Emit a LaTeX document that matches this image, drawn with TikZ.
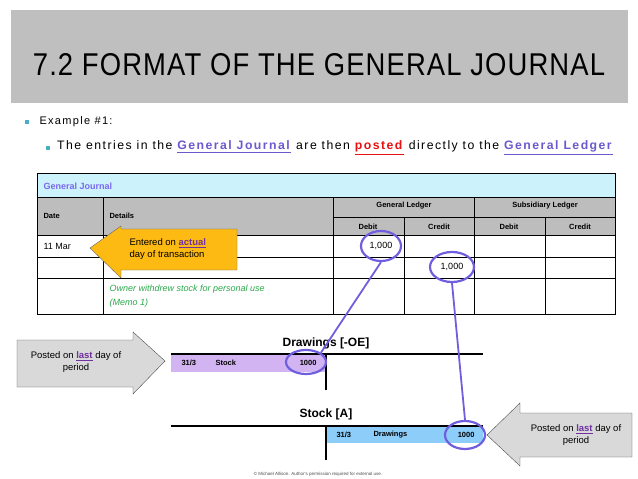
\documentclass[tikz,border=0pt]{standalone}
\usepackage{fontspec}
\setmainfont{Liberation Sans}
\newfontfamily\spaced[LetterSpace=12]{Liberation Sans}
\newfontfamily\titlefont[LetterSpace=4]{Liberation Sans}
\usetikzlibrary{shapes.arrows,shapes.geometric}
\definecolor{titlegray}{HTML}{BFBFBF}
\definecolor{hdrcyan}{HTML}{CCF2FC}
\definecolor{hdrgray}{HTML}{BDBDBD}
\definecolor{gjpurple}{HTML}{7B68EE}
\definecolor{linkblue}{HTML}{6A5ACD}
\definecolor{postred}{HTML}{E81010}
\definecolor{memogreen}{HTML}{2BA84A}
\definecolor{orangearrow}{HTML}{FDBA12}
\definecolor{circ}{HTML}{6F5FDF}
\definecolor{bandpurple}{HTML}{D3B4F2}
\definecolor{bandblue}{HTML}{8CCDFA}
\definecolor{arrowgray}{HTML}{D9D9D9}
\definecolor{lastpurple}{HTML}{7030A0}
\definecolor{bulletblue}{HTML}{4BACC6}
\tikzset{
  cell/.style={font=\fontsize{7.5}{8}\selectfont\bfseries},
  txt/.style={font=\fontsize{9}{11}\selectfont},
  ring/.style={draw=circ,line width=2.2pt,ellipse},
  link/.style={draw=circ,line width=1.8pt},
  tline/.style={line width=2.5pt},
  bul/.style={fill=bulletblue,minimum size=4.5pt,inner sep=0pt},
}
\newcommand{\ul}[2]{\textcolor{#1}{\underline{\textbf{#2}}}}
\begin{document}
\begin{tikzpicture}[x=1pt,y=-1pt]
\useasboundingbox (0,0) rectangle (638,479);
% title
\fill[titlegray] (11,10) rectangle (628,103);
\node (title) at (319,65) {\resizebox{572pt}{22pt}{\titlefont 7.2 FORMAT OF THE GENERAL JOURNAL}};
\node[bul] (b1) at (27,122) {};
\node[anchor=west,font=\fontsize{11}{12}\selectfont\spaced] (ex) at (36,122) {Example \#1:};
\node[bul,minimum size=4pt] (b2) at (48,148) {};
\node[anchor=west,inner sep=0pt] (line2) at (57,148) {\resizebox{556pt}{!}{\spaced The entries in the \ul{linkblue}{General Journal} are then \ul{postred}{posted} directly to the \ul{linkblue}{General Ledger}}};
% table
\fill[hdrcyan] (37,173) rectangle (615,197);
\fill[hdrgray] (37,197) rectangle (615,235);
\draw[line width=0.8pt] (37,173) rectangle (615,314);
\foreach \y in {197,235,257,278} \draw[line width=0.7pt] (37,\y) -- (615,\y);
\draw[line width=0.7pt] (333,217) -- (615,217);
\draw[line width=0.7pt] (103,197) -- (103,314);
\draw[line width=0.7pt] (333,197) -- (333,314);
\draw[line width=0.7pt] (474,197) -- (474,314);
\draw[line width=0.7pt] (404,217) -- (404,314);
\draw[line width=0.7pt] (545,217) -- (545,314);
\node[anchor=west,text=gjpurple,font=\fontsize{9}{10}\selectfont\bfseries] (gj) at (40,186) {General Journal};
\node[cell,anchor=west] (date) at (40,216) {Date};
\node[cell,anchor=west] (det) at (106,216) {Details};
\node[cell] (gl) at (404,206) {General Ledger};
\node[cell] (sl) at (545,206) {Subsidiary Ledger};
\node[cell] (d1) at (368,227) {Debit};
\node[cell] (c1) at (439,227) {Credit};
\node[cell] (d2) at (509,227) {Debit};
\node[cell] (c2) at (580,227) {Credit};
\node[txt,anchor=west] (mar) at (40,246) {11 Mar};
\node[txt,anchor=west,text=memogreen,align=left,font=\fontsize{9}{14}\selectfont\itshape] (memo) at (106,296) {Owner withdrew stock for personal use\\(Memo 1)};
\node[txt] (v1) at (381,246) {1,000};
\node[txt] (v2) at (452,267) {1,000};
% orange arrow
\draw[fill=orangearrow,draw=black!60] (90,248) -- (121,226) -- (121,229) -- (237,229) -- (237,270) -- (121,270) -- (121,278) -- cycle;
\node[txt,align=left,anchor=west,font=\fontsize{9.5}{12}\selectfont] (ent) at (126,249) {Entered on \ul{lastpurple}{actual}\\day of transaction};
% ledger Drawings
\node[font=\fontsize{12}{13}\selectfont\bfseries] (dt) at (326,343) {Drawings [-OE]};
\fill[bandpurple] (171,355) rectangle (326,372);
\draw[tline] (171,354) -- (483,354);
\draw[tline] (326,354) -- (326,390);
\node[cell,anchor=west] (dd) at (178,363) {31/3};
\node[cell,anchor=west] (ds) at (212,363) {Stock};
\node[cell,anchor=east] (da) at (320,363) {1000};
% ledger Stock
\node[font=\fontsize{12}{13}\selectfont\bfseries] (st) at (326,414) {Stock [A]};
\fill[bandblue] (327,427) rectangle (483,443);
\draw[tline] (171,426) -- (483,426);
\draw[tline] (326,426) -- (326,460);
\node[cell,anchor=west] (sd) at (333,435) {31/3};
\node[cell,anchor=west] (sdr) at (370,435) {Drawings};
\node[cell,anchor=east] (sa) at (478,435) {1000};
% rings and links
\node[ring,minimum width=40pt,minimum height=30pt] (e1) at (381,246) {};
\node[ring,minimum width=44pt,minimum height=30pt] (e2) at (452,267) {};
\node[ring,minimum width=40pt,minimum height=24pt] (e3) at (306,362) {};
\node[ring,minimum width=40pt,minimum height=28pt] (e4) at (465,435) {};
\draw[link] (e1.south) -- (e3.north east);
\draw[link] (e2.south) -- (e4.north);
% gray arrows
\draw[fill=arrowgray,draw=black!70] (17,340) -- (133,340) -- (133,332) -- (165,361) -- (133,394) -- (133,387) -- (17,387) -- cycle;
\node[txt,align=center,font=\fontsize{9.5}{12}\selectfont] (pl) at (76,362) {Posted on \ul{lastpurple}{last} day of\\period};
\draw[fill=arrowgray,draw=black!70] (632,413) -- (520,413) -- (520,403) -- (487,435) -- (520,466) -- (520,457) -- (632,457) -- cycle;
\node[txt,align=center,font=\fontsize{9.5}{12}\selectfont] (pr) at (576,435) {Posted on \ul{lastpurple}{last} day of\\period};
\node[font=\fontsize{4.5}{5}\selectfont,text=black!70] (foot) at (318,474) {\textcopyright\ Michael Allison. Author's permission required for external use.};
\end{tikzpicture}
\end{document}
